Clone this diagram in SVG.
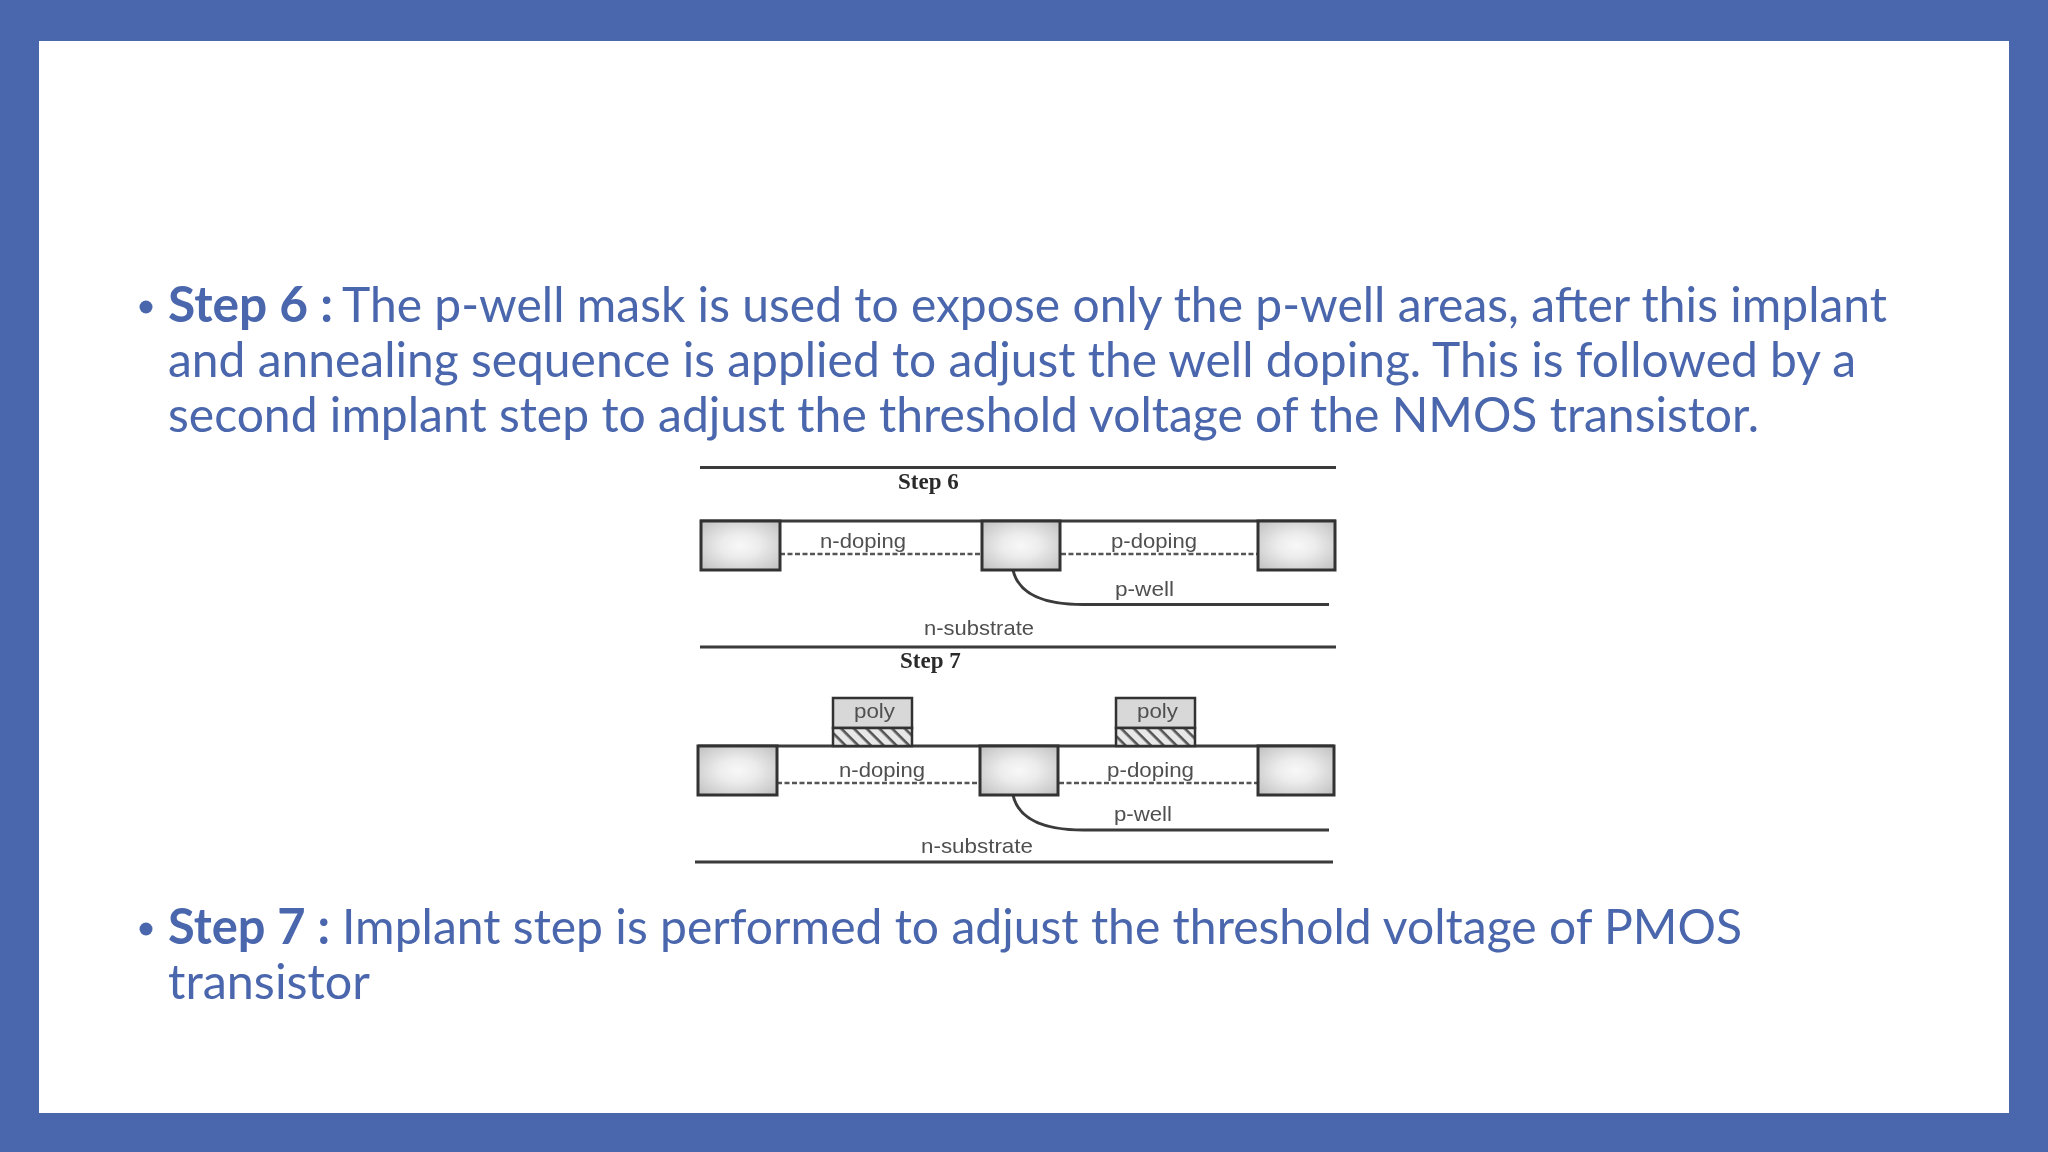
<svg xmlns="http://www.w3.org/2000/svg" width="2048" height="1152" viewBox="0 0 2048 1152">
<style>
.t{font-family:"Lato","Open Sans",sans-serif;font-size:49px;fill:#4a66ac}
.b{font-weight:700}
.d{font-family:"Liberation Sans",Arial,sans-serif;font-size:21px;fill:#505050}
.h{font-family:"Liberation Serif","Times New Roman",serif;font-size:23px;font-weight:700;fill:#2a2a2a}
.ln{fill:none;stroke:#3a3a3a;stroke-width:3}
.dash{fill:none;stroke:#555;stroke-width:2.5;stroke-dasharray:5 2.5}
.ox{fill:url(#ox);stroke:#333;stroke-width:3}
.poly{fill:#d8d8d8;stroke:#333;stroke-width:2.5}
.gate{fill:url(#hatch);stroke:#333;stroke-width:2.5}
</style>
<defs>
<radialGradient id="ox" cx="50%" cy="50%" r="70%"><stop offset="0" stop-color="#f8f8f8"/><stop offset="0.35" stop-color="#ececec"/><stop offset="1" stop-color="#bfbfbf"/></radialGradient>
<pattern id="hatch" width="9" height="9" patternUnits="userSpaceOnUse" patternTransform="rotate(45)"><rect width="9" height="9" fill="#e8e8e8"/><rect width="9" height="2.6" fill="#555"/></pattern>
<filter id="soft" x="-5%" y="-5%" width="110%" height="110%"><feGaussianBlur stdDeviation="0.7"/></filter>
</defs>
<rect width="2048" height="1152" fill="#4a66ac"/>
<rect x="39" y="41" width="1970" height="1072" fill="#fff"/>

<g id="bullet-step6">
<circle cx="146" cy="307" r="6.5" fill="#4a66ac"/>
<text class="t b" x="168" y="322" textLength="165" lengthAdjust="spacingAndGlyphs">Step 6 :</text>
<text class="t" x="342" y="322" textLength="1545" lengthAdjust="spacingAndGlyphs">The p-well mask is used to expose only the p-well areas, after this implant</text>
<text class="t" x="168" y="377" textLength="1688" lengthAdjust="spacingAndGlyphs">and annealing sequence is applied to adjust the well doping. This is followed by a</text>
<text class="t" x="168" y="432" textLength="1591" lengthAdjust="spacingAndGlyphs">second implant step to adjust the threshold voltage of the NMOS transistor.</text>
</g>
<g id="bullet-step7">
<circle cx="146" cy="929" r="6.5" fill="#4a66ac"/>
<text class="t b" x="168" y="944" textLength="162" lengthAdjust="spacingAndGlyphs">Step 7 :</text>
<text class="t" x="342" y="944" textLength="1400" lengthAdjust="spacingAndGlyphs">Implant step is performed to adjust the threshold voltage of PMOS</text>
<text class="t" x="168" y="999" textLength="202" lengthAdjust="spacingAndGlyphs">transistor</text>
</g>

<g id="figure" filter="url(#soft)">
<g id="connectors">
<path class="ln" d="M700 467.5H1336"/>
<path class="ln" d="M700 521H1336"/>
<path class="dash" d="M780 554H982M1061 554H1258"/>
<path class="ln" d="M1013 570C1018 592 1040 604.500 1083 604.500H1329"/>
<path class="ln" d="M700 647H1336"/>
<path class="ln" d="M698 746H1334"/>
<path class="dash" d="M777 783H980M1059 783H1258"/>
<path class="ln" d="M1013 795C1018 817 1040 830 1083 830H1329"/>
<path class="ln" d="M695 862H1333"/>
</g>
<g id="step6-title"><text class="h" x="898" y="489">Step 6</text></g>
<g id="s6-oxide-1"><rect class="ox" x="701" y="521" width="79" height="49"/></g>
<g id="s6-oxide-2"><rect class="ox" x="982" y="521" width="78" height="49"/></g>
<g id="s6-oxide-3"><rect class="ox" x="1258" y="521" width="77" height="49"/></g>
<g id="s6-labels">
<text class="d" x="820" y="548" textLength="86" lengthAdjust="spacingAndGlyphs">n-doping</text>
<text class="d" x="1111" y="548" textLength="86" lengthAdjust="spacingAndGlyphs">p-doping</text>
<text class="d" x="1115" y="596" textLength="59" lengthAdjust="spacingAndGlyphs">p-well</text>
<text class="d" x="924" y="635" textLength="110" lengthAdjust="spacingAndGlyphs">n-substrate</text>
</g>
<g id="step7-title"><text class="h" x="900" y="668">Step 7</text></g>
<g id="s7-poly-1"><rect class="poly" x="833" y="698" width="79" height="30"/><rect class="gate" x="833" y="728" width="79" height="18"/><text class="d" x="854" y="718" textLength="41" lengthAdjust="spacingAndGlyphs">poly</text></g>
<g id="s7-poly-2"><rect class="poly" x="1116" y="698" width="79" height="30"/><rect class="gate" x="1116" y="728" width="79" height="18"/><text class="d" x="1137" y="718" textLength="41" lengthAdjust="spacingAndGlyphs">poly</text></g>
<g id="s7-oxide-1"><rect class="ox" x="698" y="746" width="79" height="49"/></g>
<g id="s7-oxide-2"><rect class="ox" x="980" y="746" width="78" height="49"/></g>
<g id="s7-oxide-3"><rect class="ox" x="1258" y="746" width="76" height="49"/></g>
<g id="s7-labels">
<text class="d" x="839" y="777" textLength="86" lengthAdjust="spacingAndGlyphs">n-doping</text>
<text class="d" x="1107" y="777" textLength="87" lengthAdjust="spacingAndGlyphs">p-doping</text>
<text class="d" x="1114" y="821" textLength="58" lengthAdjust="spacingAndGlyphs">p-well</text>
<text class="d" x="921" y="853" textLength="112" lengthAdjust="spacingAndGlyphs">n-substrate</text>
</g>
</g>
</svg>
